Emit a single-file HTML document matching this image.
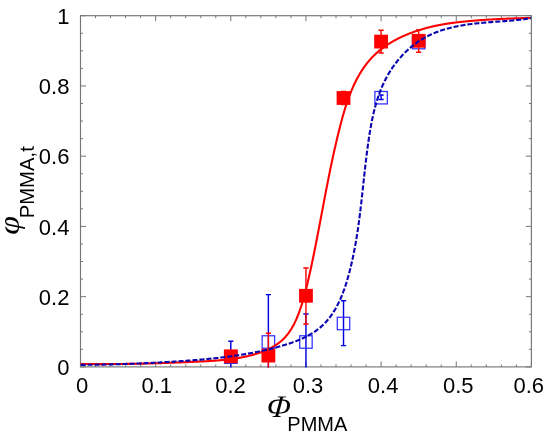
<!DOCTYPE html><html><head><meta charset="utf-8"><style>html,body{margin:0;padding:0;background:#fff;overflow:hidden;}svg{display:block;}</style></head><body>
<svg width="550" height="443" viewBox="0 0 550 443">
<rect width="550" height="443" fill="#fff"/>
<defs><clipPath id="c"><rect x="80.5" y="15.5" width="451" height="352"/></clipPath></defs>
<path d="M80.50,366.90v-5.5M80.50,15.70v5.5M95.53,366.90v-2.5M95.53,15.70v2.5M110.56,366.90v-2.5M110.56,15.70v2.5M125.59,366.90v-2.5M125.59,15.70v2.5M140.62,366.90v-2.5M140.62,15.70v2.5M155.65,366.90v-5.5M155.65,15.70v5.5M170.68,366.90v-2.5M170.68,15.70v2.5M185.71,366.90v-2.5M185.71,15.70v2.5M200.74,366.90v-2.5M200.74,15.70v2.5M215.77,366.90v-2.5M215.77,15.70v2.5M230.80,366.90v-5.5M230.80,15.70v5.5M245.83,366.90v-2.5M245.83,15.70v2.5M260.86,366.90v-2.5M260.86,15.70v2.5M275.89,366.90v-2.5M275.89,15.70v2.5M290.92,366.90v-2.5M290.92,15.70v2.5M305.95,366.90v-5.5M305.95,15.70v5.5M320.98,366.90v-2.5M320.98,15.70v2.5M336.01,366.90v-2.5M336.01,15.70v2.5M351.04,366.90v-2.5M351.04,15.70v2.5M366.07,366.90v-2.5M366.07,15.70v2.5M381.10,366.90v-5.5M381.10,15.70v5.5M396.13,366.90v-2.5M396.13,15.70v2.5M411.16,366.90v-2.5M411.16,15.70v2.5M426.19,366.90v-2.5M426.19,15.70v2.5M441.22,366.90v-2.5M441.22,15.70v2.5M456.25,366.90v-5.5M456.25,15.70v5.5M471.28,366.90v-2.5M471.28,15.70v2.5M486.31,366.90v-2.5M486.31,15.70v2.5M501.34,366.90v-2.5M501.34,15.70v2.5M516.37,366.90v-2.5M516.37,15.70v2.5M531.40,366.90v-5.5M531.40,15.70v5.5M80.50,366.90h5.5M531.40,366.90h-5.5M80.50,349.34h2.5M531.40,349.34h-2.5M80.50,331.78h2.5M531.40,331.78h-2.5M80.50,314.22h2.5M531.40,314.22h-2.5M80.50,296.66h5.5M531.40,296.66h-5.5M80.50,279.10h2.5M531.40,279.10h-2.5M80.50,261.54h2.5M531.40,261.54h-2.5M80.50,243.98h2.5M531.40,243.98h-2.5M80.50,226.42h5.5M531.40,226.42h-5.5M80.50,208.86h2.5M531.40,208.86h-2.5M80.50,191.30h2.5M531.40,191.30h-2.5M80.50,173.74h2.5M531.40,173.74h-2.5M80.50,156.18h5.5M531.40,156.18h-5.5M80.50,138.62h2.5M531.40,138.62h-2.5M80.50,121.06h2.5M531.40,121.06h-2.5M80.50,103.50h2.5M531.40,103.50h-2.5M80.50,85.94h5.5M531.40,85.94h-5.5M80.50,68.38h2.5M531.40,68.38h-2.5M80.50,50.82h2.5M531.40,50.82h-2.5M80.50,33.26h2.5M531.40,33.26h-2.5M80.50,15.70h5.5M531.40,15.70h-5.5" stroke="#767676" stroke-width="1.0" fill="none"/>
<rect x="80.5" y="15.70" width="450.90" height="351.20" stroke="#767676" stroke-width="1.15" fill="none"/>
<g clip-path="url(#c)">
<path d="M230.80,341.30V373.00M228.20,341.30h5.2M228.20,373.00h5.2" stroke="#0000e0" stroke-width="1.45" fill="none"/>
<rect x="224.58" y="350.97" width="12.45" height="12.45" stroke="#3030ff" stroke-width="1.25" fill="none"/>
<path d="M268.38,294.60V389.00M265.77,294.60h5.2M265.77,389.00h5.2" stroke="#0000e0" stroke-width="1.45" fill="none"/>
<rect x="262.15" y="335.77" width="12.45" height="12.45" stroke="#3030ff" stroke-width="1.25" fill="none"/>
<path d="M305.95,314.00V370.00M303.35,314.00h5.2M303.35,370.00h5.2" stroke="#0000e0" stroke-width="1.45" fill="none"/>
<rect x="299.72" y="335.77" width="12.45" height="12.45" stroke="#3030ff" stroke-width="1.25" fill="none"/>
<path d="M343.52,300.70V345.60M340.92,300.70h5.2M340.92,345.60h5.2" stroke="#0000e0" stroke-width="1.45" fill="none"/>
<rect x="337.30" y="317.27" width="12.45" height="12.45" stroke="#3030ff" stroke-width="1.25" fill="none"/>
<path d="M381.10,95.00V99.40M378.50,95.00h5.2M378.50,99.40h5.2" stroke="#0000e0" stroke-width="1.45" fill="none"/>
<rect x="374.88" y="91.48" width="12.45" height="12.45" stroke="#3030ff" stroke-width="1.25" fill="none"/>
<path d="M418.68,39.00V46.20M416.07,39.00h5.2M416.07,46.20h5.2" stroke="#0000e0" stroke-width="1.45" fill="none"/>
<rect x="412.45" y="36.38" width="12.45" height="12.45" stroke="#3030ff" stroke-width="1.25" fill="none"/>

<rect x="223.90" y="349.40" width="13.8" height="13.8" fill="#ff0000"/>
<path d="M268.38,333.30V378.00M265.77,333.30h5.2M265.77,378.00h5.2" stroke="#ff0000" stroke-width="1.4" fill="none"/>
<rect x="261.48" y="348.70" width="13.8" height="13.8" fill="#ff0000"/>
<path d="M305.95,268.00V324.00M303.35,268.00h5.2M303.35,324.00h5.2" stroke="#ff0000" stroke-width="1.4" fill="none"/>
<rect x="299.05" y="288.90" width="13.8" height="13.8" fill="#ff0000"/>
<path d="M343.52,91.50V104.50M340.92,91.50h5.2M340.92,104.50h5.2" stroke="#ff0000" stroke-width="1.4" fill="none"/>
<rect x="336.62" y="91.10" width="13.8" height="13.8" fill="#ff0000"/>
<path d="M381.10,30.20V53.00M378.50,30.20h5.2M378.50,53.00h5.2" stroke="#ff0000" stroke-width="1.4" fill="none"/>
<rect x="374.20" y="34.70" width="13.8" height="13.8" fill="#ff0000"/>
<path d="M418.68,30.00V52.30M416.07,30.00h5.2M416.07,52.30h5.2" stroke="#ff0000" stroke-width="1.4" fill="none"/>
<rect x="411.78" y="33.90" width="13.8" height="13.8" fill="#ff0000"/>
<path d="M80.33,363.91 L81.19,363.92 L82.04,363.93 L82.90,363.94 L83.76,363.95 L84.62,363.97 L85.47,363.98 L86.33,363.99 L87.19,363.99 L88.04,364.00 L88.90,364.01 L89.75,364.02 L90.60,364.03 L91.46,364.03 L92.31,364.04 L93.16,364.05 L94.02,364.05 L94.87,364.06 L95.72,364.06 L96.57,364.06 L97.42,364.07 L98.27,364.07 L99.12,364.07 L99.97,364.08 L100.82,364.08 L101.66,364.08 L102.51,364.08 L103.36,364.08 L104.21,364.08 L105.05,364.08 L105.90,364.08 L106.75,364.07 L107.59,364.07 L108.44,364.07 L109.28,364.07 L110.13,364.06 L110.97,364.06 L111.82,364.05 L112.66,364.05 L113.51,364.04 L114.35,364.04 L115.19,364.03 L116.04,364.03 L116.88,364.02 L117.72,364.01 L118.56,364.00 L119.40,363.99 L120.25,363.99 L121.09,363.98 L121.93,363.97 L122.77,363.96 L123.61,363.95 L124.45,363.94 L125.29,363.92 L126.13,363.91 L126.97,363.90 L127.81,363.89 L128.65,363.88 L129.49,363.86 L130.33,363.85 L131.17,363.83 L132.01,363.82 L132.85,363.80 L133.69,363.79 L134.53,363.77 L135.36,363.76 L136.20,363.74 L137.04,363.72 L137.88,363.71 L138.72,363.69 L139.56,363.67 L140.40,363.65 L141.23,363.63 L142.07,363.61 L142.91,363.60 L143.75,363.58 L144.59,363.56 L145.42,363.53 L146.26,363.51 L147.10,363.49 L147.94,363.47 L148.77,363.45 L149.61,363.43 L150.45,363.40 L151.29,363.38 L152.13,363.36 L152.96,363.33 L153.80,363.31 L154.64,363.29 L155.48,363.26 L156.32,363.24 L157.16,363.21 L157.99,363.18 L158.83,363.16 L159.67,363.13 L160.51,363.11 L161.35,363.08 L162.19,363.05 L163.03,363.02 L163.86,363.00 L164.70,362.97 L165.54,362.94 L166.38,362.91 L167.22,362.88 L168.06,362.85 L168.90,362.82 L169.74,362.79 L170.58,362.76 L171.42,362.73 L172.26,362.70 L173.10,362.67 L173.94,362.64 L174.79,362.60 L175.63,362.57 L176.47,362.54 L177.31,362.51 L178.15,362.47 L179.00,362.44 L179.84,362.41 L180.68,362.37 L181.52,362.34 L182.37,362.30 L183.21,362.27 L184.06,362.23 L184.90,362.20 L185.74,362.16 L186.59,362.13 L187.43,362.09 L188.28,362.06 L189.13,362.02 L189.97,361.98 L190.82,361.95 L191.66,361.91 L192.51,361.87 L193.36,361.83 L194.21,361.80 L195.06,361.76 L195.90,361.72 L196.75,361.68 L197.60,361.64 L198.45,361.60 L199.30,361.56 L200.15,361.52 L201.00,361.48 L201.85,361.44 L202.71,361.40 L203.56,361.36 L204.41,361.31 L205.26,361.27 L206.11,361.22 L206.96,361.18 L207.81,361.13 L208.67,361.08 L209.52,361.03 L210.37,360.98 L211.22,360.92 L212.07,360.87 L212.92,360.81 L213.78,360.75 L214.63,360.69 L215.48,360.63 L216.33,360.57 L217.18,360.50 L218.03,360.43 L218.88,360.36 L219.73,360.29 L220.58,360.22 L221.42,360.14 L222.27,360.06 L223.12,359.98 L223.97,359.90 L224.81,359.81 L225.66,359.72 L226.51,359.63 L227.35,359.53 L228.20,359.43 L229.04,359.33 L229.88,359.23 L230.72,359.12 L231.56,359.01 L232.41,358.89 L233.25,358.78 L234.08,358.65 L234.92,358.53 L235.76,358.40 L236.60,358.27 L237.43,358.13 L238.27,357.99 L239.10,357.85 L239.93,357.70 L240.76,357.55 L241.59,357.39 L242.42,357.23 L243.25,357.07 L244.08,356.90 L244.90,356.73 L245.73,356.55 L246.55,356.37 L247.37,356.18 L248.19,355.99 L249.01,355.79 L249.83,355.59 L250.65,355.38 L251.46,355.17 L252.27,354.95 L253.09,354.73 L253.90,354.50 L254.70,354.27 L255.51,354.03 L256.32,353.78 L257.12,353.53 L257.92,353.28 L258.71,353.02 L259.51,352.75 L260.30,352.47 L261.09,352.19 L261.87,351.90 L262.65,351.61 L263.43,351.31 L264.20,351.00 L264.97,350.69 L265.73,350.36 L266.49,350.03 L267.24,349.70 L267.99,349.35 L268.73,349.00 L269.47,348.64 L270.20,348.27 L270.92,347.90 L271.64,347.51 L272.36,347.12 L273.06,346.72 L273.76,346.31 L274.46,345.89 L275.14,345.47 L275.82,345.03 L276.49,344.59 L277.16,344.14 L277.81,343.67 L278.46,343.20 L279.10,342.72 L279.73,342.23 L280.35,341.73 L280.96,341.22 L281.56,340.70 L282.16,340.17 L282.74,339.62 L283.32,339.07 L283.88,338.51 L284.44,337.94 L284.99,337.36 L285.52,336.76 L286.05,336.16 L286.57,335.55 L287.08,334.93 L287.58,334.30 L288.07,333.67 L288.55,333.02 L289.03,332.36 L289.49,331.70 L289.95,331.03 L290.40,330.35 L290.84,329.66 L291.28,328.97 L291.70,328.27 L292.12,327.56 L292.53,326.84 L292.94,326.12 L293.34,325.39 L293.73,324.66 L294.11,323.91 L294.49,323.17 L294.86,322.41 L295.22,321.66 L295.58,320.89 L295.93,320.12 L296.28,319.35 L296.62,318.57 L296.95,317.79 L297.28,317.00 L297.60,316.21 L297.92,315.41 L298.23,314.62 L298.54,313.81 L298.84,313.01 L299.14,312.20 L299.43,311.39 L299.72,310.57 L300.01,309.75 L300.29,308.93 L300.56,308.11 L300.83,307.29 L301.10,306.46 L301.37,305.64 L301.63,304.81 L301.89,303.98 L302.14,303.15 L302.39,302.32 L302.64,301.48 L302.89,300.65 L303.13,299.82 L303.37,298.99 L303.61,298.15 L303.84,297.32 L304.07,296.49 L304.31,295.65 L304.53,294.82 L304.76,293.99 L304.98,293.15 L305.20,292.32 L305.42,291.49 L305.64,290.65 L305.85,289.82 L306.07,288.98 L306.28,288.15 L306.49,287.32 L306.69,286.48 L306.90,285.65 L307.10,284.82 L307.30,283.98 L307.51,283.15 L307.70,282.31 L307.90,281.48 L308.10,280.65 L308.29,279.81 L308.48,278.98 L308.68,278.15 L308.87,277.31 L309.05,276.48 L309.24,275.65 L309.43,274.82 L309.62,273.98 L309.80,273.15 L309.98,272.32 L310.17,271.49 L310.35,270.66 L310.53,269.82 L310.71,268.99 L310.89,268.16 L311.07,267.33 L311.25,266.50 L311.43,265.67 L311.60,264.84 L311.78,264.01 L311.95,263.18 L312.13,262.35 L312.30,261.52 L312.48,260.69 L312.65,259.87 L312.82,259.04 L313.00,258.21 L313.17,257.38 L313.34,256.55 L313.51,255.72 L313.68,254.90 L313.85,254.07 L314.01,253.24 L314.18,252.42 L314.35,251.59 L314.52,250.76 L314.68,249.94 L314.85,249.11 L315.01,248.28 L315.18,247.46 L315.34,246.63 L315.51,245.81 L315.67,244.98 L315.84,244.15 L316.00,243.33 L316.16,242.50 L316.32,241.68 L316.48,240.85 L316.65,240.03 L316.81,239.21 L316.97,238.38 L317.13,237.56 L317.29,236.73 L317.45,235.91 L317.61,235.09 L317.76,234.26 L317.92,233.44 L318.08,232.61 L318.24,231.79 L318.40,230.97 L318.56,230.14 L318.71,229.32 L318.87,228.50 L319.03,227.68 L319.18,226.85 L319.34,226.03 L319.50,225.21 L319.65,224.38 L319.81,223.56 L319.97,222.74 L320.12,221.92 L320.28,221.09 L320.43,220.27 L320.59,219.45 L320.74,218.63 L320.90,217.81 L321.05,216.98 L321.21,216.16 L321.36,215.34 L321.52,214.52 L321.67,213.70 L321.83,212.87 L321.99,212.05 L322.14,211.23 L322.30,210.41 L322.45,209.59 L322.61,208.77 L322.76,207.95 L322.92,207.12 L323.07,206.30 L323.23,205.48 L323.38,204.66 L323.54,203.84 L323.69,203.02 L323.85,202.19 L324.00,201.37 L324.16,200.55 L324.32,199.73 L324.47,198.91 L324.63,198.09 L324.79,197.27 L324.94,196.44 L325.10,195.62 L325.26,194.80 L325.42,193.98 L325.57,193.16 L325.73,192.34 L325.89,191.51 L326.05,190.69 L326.21,189.87 L326.37,189.05 L326.53,188.23 L326.69,187.41 L326.85,186.58 L327.01,185.76 L327.17,184.94 L327.33,184.12 L327.49,183.30 L327.65,182.47 L327.81,181.65 L327.98,180.83 L328.14,180.01 L328.30,179.18 L328.47,178.36 L328.63,177.54 L328.80,176.72 L328.96,175.89 L329.13,175.07 L329.29,174.25 L329.46,173.42 L329.63,172.60 L329.79,171.78 L329.96,170.95 L330.13,170.13 L330.30,169.31 L330.47,168.48 L330.64,167.66 L330.81,166.83 L330.98,166.01 L331.16,165.19 L331.33,164.36 L331.50,163.54 L331.68,162.71 L331.85,161.89 L332.03,161.06 L332.20,160.24 L332.38,159.41 L332.56,158.59 L332.73,157.76 L332.91,156.94 L333.09,156.11 L333.27,155.28 L333.45,154.46 L333.64,153.63 L333.82,152.80 L334.00,151.98 L334.19,151.15 L334.37,150.32 L334.56,149.50 L334.74,148.67 L334.93,147.84 L335.12,147.01 L335.31,146.19 L335.50,145.36 L335.69,144.53 L335.88,143.70 L336.07,142.87 L336.26,142.04 L336.46,141.21 L336.65,140.38 L336.85,139.55 L337.05,138.72 L337.24,137.89 L337.44,137.06 L337.64,136.23 L337.84,135.40 L338.05,134.57 L338.25,133.74 L338.45,132.91 L338.66,132.08 L338.86,131.25 L339.07,130.41 L339.28,129.58 L339.49,128.75 L339.70,127.92 L339.91,127.08 L340.12,126.25 L340.34,125.42 L340.55,124.58 L340.77,123.75 L340.99,122.92 L341.21,122.09 L341.43,121.25 L341.65,120.42 L341.88,119.59 L342.10,118.76 L342.33,117.93 L342.56,117.10 L342.79,116.27 L343.03,115.44 L343.26,114.62 L343.50,113.79 L343.74,112.96 L343.98,112.14 L344.23,111.31 L344.47,110.49 L344.72,109.67 L344.98,108.85 L345.23,108.03 L345.49,107.21 L345.75,106.39 L346.01,105.58 L346.27,104.76 L346.54,103.95 L346.81,103.14 L347.08,102.33 L347.36,101.52 L347.64,100.71 L347.92,99.91 L348.21,99.11 L348.49,98.31 L348.78,97.51 L349.08,96.71 L349.38,95.92 L349.68,95.12 L349.98,94.33 L350.29,93.55 L350.60,92.76 L350.92,91.98 L351.24,91.19 L351.56,90.42 L351.88,89.64 L352.21,88.87 L352.55,88.10 L352.89,87.33 L353.23,86.56 L353.57,85.80 L353.92,85.04 L354.28,84.28 L354.63,83.53 L355.00,82.78 L355.36,82.03 L355.73,81.28 L356.11,80.54 L356.49,79.81 L356.87,79.07 L357.26,78.34 L357.65,77.61 L358.05,76.89 L358.45,76.17 L358.86,75.45 L359.27,74.73 L359.69,74.02 L360.11,73.32 L360.54,72.61 L360.97,71.92 L361.41,71.22 L361.85,70.53 L362.30,69.84 L362.75,69.16 L363.21,68.48 L363.67,67.81 L364.14,67.14 L364.62,66.47 L365.10,65.81 L365.58,65.16 L366.07,64.50 L366.57,63.86 L367.07,63.21 L367.58,62.58 L368.10,61.94 L368.62,61.31 L369.14,60.69 L369.67,60.07 L370.21,59.46 L370.76,58.85 L371.31,58.24 L371.87,57.65 L372.43,57.05 L373.00,56.46 L373.57,55.88 L374.16,55.30 L374.75,54.73 L375.34,54.17 L375.94,53.60 L376.55,53.05 L377.17,52.50 L377.79,51.96 L378.42,51.42 L379.05,50.88 L379.70,50.36 L380.34,49.83 L381.00,49.32 L381.66,48.81 L382.32,48.30 L382.99,47.80 L383.67,47.31 L384.35,46.82 L385.04,46.33 L385.73,45.86 L386.43,45.38 L387.13,44.92 L387.84,44.45 L388.55,44.00 L389.27,43.55 L389.99,43.10 L390.72,42.66 L391.45,42.22 L392.18,41.79 L392.92,41.37 L393.66,40.95 L394.41,40.54 L395.16,40.13 L395.91,39.72 L396.67,39.32 L397.43,38.93 L398.20,38.54 L398.97,38.16 L399.74,37.78 L400.51,37.41 L401.29,37.04 L402.07,36.67 L402.85,36.32 L403.64,35.96 L404.42,35.62 L405.21,35.27 L406.01,34.93 L406.80,34.60 L407.60,34.27 L408.40,33.95 L409.20,33.63 L410.00,33.32 L410.80,33.01 L411.61,32.71 L412.41,32.41 L413.22,32.11 L414.03,31.82 L414.84,31.54 L415.65,31.26 L416.46,30.99 L417.27,30.72 L418.09,30.45 L418.90,30.19 L419.71,29.93 L420.53,29.68 L421.34,29.44 L422.16,29.19 L422.98,28.96 L423.79,28.72 L424.61,28.49 L425.43,28.27 L426.24,28.05 L427.06,27.83 L427.88,27.62 L428.70,27.41 L429.52,27.21 L430.34,27.01 L431.16,26.81 L431.98,26.62 L432.80,26.43 L433.63,26.25 L434.45,26.06 L435.27,25.89 L436.09,25.71 L436.92,25.54 L437.74,25.38 L438.57,25.21 L439.39,25.05 L440.22,24.89 L441.04,24.74 L441.87,24.59 L442.70,24.44 L443.52,24.30 L444.35,24.16 L445.18,24.02 L446.01,23.88 L446.83,23.75 L447.66,23.62 L448.49,23.49 L449.32,23.37 L450.15,23.25 L450.98,23.13 L451.81,23.01 L452.65,22.90 L453.48,22.79 L454.31,22.68 L455.14,22.57 L455.97,22.47 L456.81,22.36 L457.64,22.26 L458.47,22.17 L459.31,22.07 L460.14,21.98 L460.98,21.88 L461.81,21.79 L462.65,21.70 L463.48,21.62 L464.32,21.53 L465.15,21.45 L465.99,21.37 L466.83,21.29 L467.66,21.21 L468.50,21.13 L469.34,21.05 L470.18,20.98 L471.02,20.91 L471.86,20.83 L472.69,20.76 L473.53,20.69 L474.37,20.63 L475.21,20.56 L476.05,20.49 L476.89,20.43 L477.73,20.36 L478.57,20.30 L479.42,20.23 L480.26,20.17 L481.10,20.11 L481.94,20.05 L482.78,19.99 L483.62,19.93 L484.47,19.88 L485.31,19.82 L486.15,19.77 L486.99,19.71 L487.84,19.66 L488.68,19.61 L489.52,19.56 L490.37,19.50 L491.21,19.45 L492.05,19.41 L492.90,19.36 L493.74,19.31 L494.58,19.26 L495.43,19.22 L496.27,19.17 L497.11,19.13 L497.96,19.09 L498.80,19.04 L499.65,19.00 L500.49,18.96 L501.34,18.92 L502.18,18.88 L503.02,18.84 L503.87,18.81 L504.71,18.77 L505.56,18.73 L506.40,18.70 L507.24,18.66 L508.09,18.63 L508.93,18.60 L509.78,18.56 L510.62,18.53 L511.46,18.50 L512.31,18.47 L513.15,18.44 L513.99,18.41 L514.84,18.38 L515.68,18.35 L516.52,18.33 L517.37,18.30 L518.21,18.27 L519.05,18.25 L519.89,18.22 L520.74,18.20 L521.58,18.17 L522.42,18.15 L523.26,18.13 L524.10,18.11 L524.94,18.09 L525.79,18.06 L526.63,18.04 L527.47,18.02 L528.31,18.00 L529.15,17.99 L529.99,17.97" stroke="#ff0000" stroke-width="2.1" fill="none"/>
<path d="M80.53,364.86 L81.37,364.85 L82.21,364.85 L83.05,364.85 L83.89,364.84 L84.73,364.83 L85.57,364.83 L86.41,364.82 L87.26,364.82 L88.10,364.81 L88.94,364.80 L89.78,364.79 L90.62,364.78 L91.46,364.77 L92.31,364.76 L93.15,364.75 L93.99,364.74 L94.83,364.73 L95.68,364.72 L96.52,364.71 L97.36,364.69 L98.20,364.68 L99.05,364.67 L99.89,364.65 L100.73,364.64 L101.58,364.62 L102.42,364.60 L103.26,364.59 L104.11,364.57 L104.95,364.55 L105.79,364.54 L106.64,364.52 L107.48,364.50 L108.32,364.48 L109.17,364.46 L110.01,364.44 L110.86,364.42 L111.70,364.40 L112.54,364.38 L113.39,364.35 L114.23,364.33 L115.08,364.31 L115.92,364.28 L116.77,364.26 L117.61,364.24 L118.45,364.21 L119.30,364.19 L120.14,364.16 L120.99,364.13 L121.83,364.11 L122.68,364.08 L123.52,364.05 L124.37,364.02 L125.21,364.00 L126.05,363.97 L126.90,363.94 L127.74,363.91 L128.59,363.88 L129.43,363.85 L130.28,363.81 L131.12,363.78 L131.97,363.75 L132.81,363.72 L133.66,363.68 L134.50,363.65 L135.35,363.62 L136.19,363.58 L137.03,363.55 L137.88,363.51 L138.72,363.47 L139.57,363.44 L140.41,363.40 L141.26,363.36 L142.10,363.33 L142.95,363.29 L143.79,363.25 L144.63,363.21 L145.48,363.17 L146.32,363.13 L147.17,363.09 L148.01,363.05 L148.86,363.01 L149.70,362.97 L150.54,362.93 L151.39,362.88 L152.23,362.84 L153.07,362.80 L153.92,362.75 L154.76,362.71 L155.61,362.66 L156.45,362.62 L157.29,362.57 L158.14,362.53 L158.98,362.48 L159.82,362.43 L160.67,362.39 L161.51,362.34 L162.35,362.29 L163.19,362.24 L164.04,362.19 L164.88,362.14 L165.72,362.09 L166.57,362.04 L167.41,361.99 L168.25,361.94 L169.09,361.89 L169.93,361.84 L170.78,361.79 L171.62,361.74 L172.46,361.68 L173.30,361.63 L174.14,361.57 L174.98,361.52 L175.83,361.47 L176.67,361.41 L177.51,361.36 L178.35,361.30 L179.19,361.24 L180.03,361.19 L180.87,361.13 L181.71,361.07 L182.55,361.01 L183.39,360.96 L184.23,360.90 L185.07,360.84 L185.91,360.78 L186.75,360.72 L187.59,360.66 L188.43,360.59 L189.27,360.53 L190.11,360.47 L190.95,360.41 L191.79,360.34 L192.62,360.28 L193.46,360.21 L194.30,360.15 L195.14,360.08 L195.98,360.01 L196.82,359.95 L197.65,359.88 L198.49,359.81 L199.33,359.74 L200.17,359.67 L201.00,359.59 L201.84,359.52 L202.68,359.45 L203.52,359.37 L204.35,359.30 L205.19,359.22 L206.03,359.14 L206.86,359.06 L207.70,358.99 L208.54,358.91 L209.37,358.82 L210.21,358.74 L211.05,358.66 L211.88,358.57 L212.72,358.49 L213.56,358.40 L214.39,358.31 L215.23,358.23 L216.06,358.14 L216.90,358.04 L217.74,357.95 L218.57,357.86 L219.41,357.76 L220.24,357.67 L221.08,357.57 L221.91,357.47 L222.75,357.37 L223.58,357.27 L224.42,357.17 L225.25,357.06 L226.09,356.96 L226.92,356.85 L227.76,356.74 L228.59,356.63 L229.43,356.52 L230.26,356.41 L231.10,356.30 L231.93,356.18 L232.77,356.06 L233.60,355.95 L234.44,355.83 L235.27,355.70 L236.10,355.58 L236.94,355.46 L237.77,355.33 L238.61,355.20 L239.44,355.07 L240.28,354.94 L241.11,354.81 L241.94,354.67 L242.78,354.53 L243.61,354.40 L244.45,354.26 L245.28,354.11 L246.11,353.97 L246.95,353.82 L247.78,353.68 L248.62,353.53 L249.45,353.38 L250.28,353.22 L251.12,353.07 L251.95,352.91 L252.79,352.75 L253.62,352.59 L254.45,352.43 L255.29,352.26 L256.12,352.10 L256.95,351.93 L257.79,351.76 L258.62,351.58 L259.45,351.41 L260.29,351.23 L261.12,351.05 L261.96,350.87 L262.79,350.68 L263.62,350.50 L264.46,350.31 L265.29,350.12 L266.12,349.93 L266.96,349.73 L267.79,349.53 L268.63,349.33 L269.46,349.13 L270.29,348.93 L271.13,348.72 L271.96,348.51 L272.79,348.30 L273.63,348.09 L274.46,347.87 L275.30,347.65 L276.13,347.43 L276.96,347.21 L277.80,346.98 L278.63,346.75 L279.46,346.52 L280.30,346.28 L281.13,346.05 L281.96,345.81 L282.79,345.56 L283.62,345.32 L284.45,345.07 L285.28,344.81 L286.11,344.56 L286.93,344.30 L287.75,344.03 L288.58,343.77 L289.40,343.49 L290.21,343.22 L291.03,342.94 L291.84,342.66 L292.65,342.37 L293.46,342.08 L294.27,341.78 L295.07,341.48 L295.87,341.17 L296.66,340.86 L297.46,340.55 L298.25,340.23 L299.03,339.91 L299.82,339.58 L300.59,339.24 L301.37,338.90 L302.14,338.56 L302.91,338.21 L303.67,337.85 L304.43,337.49 L305.18,337.12 L305.93,336.75 L306.67,336.37 L307.41,335.98 L308.15,335.59 L308.87,335.20 L309.60,334.79 L310.31,334.38 L311.03,333.97 L311.73,333.54 L312.43,333.11 L313.13,332.68 L313.81,332.24 L314.49,331.79 L315.17,331.33 L315.84,330.87 L316.50,330.40 L317.15,329.92 L317.80,329.43 L318.44,328.94 L319.07,328.44 L319.70,327.93 L320.32,327.42 L320.93,326.89 L321.53,326.36 L322.13,325.82 L322.71,325.27 L323.29,324.72 L323.86,324.16 L324.43,323.59 L324.99,323.01 L325.54,322.43 L326.08,321.84 L326.61,321.24 L327.14,320.64 L327.66,320.03 L328.18,319.41 L328.69,318.78 L329.19,318.15 L329.68,317.51 L330.17,316.87 L330.65,316.22 L331.12,315.57 L331.59,314.90 L332.05,314.24 L332.50,313.56 L332.95,312.88 L333.39,312.20 L333.83,311.51 L334.26,310.82 L334.69,310.11 L335.10,309.41 L335.52,308.70 L335.92,307.98 L336.32,307.26 L336.72,306.54 L337.11,305.81 L337.49,305.07 L337.87,304.34 L338.24,303.59 L338.61,302.84 L338.97,302.09 L339.33,301.34 L339.68,300.58 L340.03,299.82 L340.37,299.05 L340.71,298.28 L341.05,297.51 L341.37,296.73 L341.70,295.95 L342.02,295.16 L342.33,294.38 L342.64,293.59 L342.95,292.79 L343.25,292.00 L343.54,291.20 L343.84,290.40 L344.13,289.60 L344.41,288.79 L344.69,287.98 L344.97,287.17 L345.24,286.36 L345.51,285.55 L345.78,284.73 L346.04,283.91 L346.30,283.09 L346.55,282.27 L346.80,281.45 L347.05,280.63 L347.30,279.80 L347.54,278.97 L347.78,278.15 L348.01,277.32 L348.24,276.49 L348.47,275.66 L348.70,274.83 L348.93,274.00 L349.15,273.17 L349.37,272.33 L349.58,271.50 L349.80,270.67 L350.01,269.84 L350.22,269.01 L350.42,268.17 L350.63,267.34 L350.83,266.51 L351.03,265.68 L351.23,264.84 L351.42,264.01 L351.61,263.18 L351.80,262.35 L351.99,261.52 L352.18,260.68 L352.36,259.85 L352.55,259.02 L352.73,258.19 L352.90,257.35 L353.08,256.52 L353.26,255.69 L353.43,254.86 L353.60,254.03 L353.77,253.19 L353.93,252.36 L354.10,251.53 L354.26,250.70 L354.42,249.86 L354.58,249.03 L354.74,248.20 L354.89,247.37 L355.05,246.54 L355.20,245.70 L355.35,244.87 L355.50,244.04 L355.64,243.21 L355.79,242.38 L355.93,241.54 L356.08,240.71 L356.22,239.88 L356.36,239.05 L356.49,238.21 L356.63,237.38 L356.76,236.55 L356.90,235.72 L357.03,234.88 L357.16,234.05 L357.29,233.22 L357.42,232.39 L357.54,231.55 L357.67,230.72 L357.79,229.89 L357.92,229.06 L358.04,228.22 L358.16,227.39 L358.28,226.56 L358.39,225.72 L358.51,224.89 L358.63,224.06 L358.74,223.23 L358.85,222.39 L358.97,221.56 L359.08,220.73 L359.19,219.89 L359.30,219.06 L359.41,218.23 L359.51,217.39 L359.62,216.56 L359.73,215.73 L359.83,214.89 L359.94,214.06 L360.04,213.23 L360.14,212.39 L360.24,211.56 L360.34,210.73 L360.45,209.89 L360.54,209.06 L360.64,208.22 L360.74,207.39 L360.84,206.56 L360.94,205.72 L361.03,204.89 L361.13,204.05 L361.23,203.22 L361.32,202.39 L361.41,201.55 L361.51,200.72 L361.60,199.88 L361.70,199.05 L361.79,198.21 L361.88,197.38 L361.97,196.54 L362.06,195.71 L362.16,194.87 L362.25,194.04 L362.34,193.20 L362.43,192.37 L362.52,191.53 L362.61,190.70 L362.70,189.86 L362.79,189.03 L362.88,188.19 L362.97,187.35 L363.06,186.52 L363.15,185.68 L363.24,184.85 L363.33,184.01 L363.42,183.17 L363.51,182.34 L363.60,181.50 L363.69,180.66 L363.78,179.83 L363.87,178.99 L363.96,178.15 L364.05,177.32 L364.14,176.48 L364.23,175.64 L364.32,174.80 L364.42,173.97 L364.51,173.13 L364.60,172.29 L364.69,171.45 L364.79,170.62 L364.88,169.78 L364.97,168.94 L365.07,168.10 L365.16,167.26 L365.26,166.42 L365.35,165.59 L365.45,164.75 L365.55,163.91 L365.65,163.07 L365.74,162.23 L365.84,161.39 L365.94,160.55 L366.04,159.71 L366.14,158.87 L366.25,158.03 L366.35,157.19 L366.45,156.35 L366.55,155.51 L366.66,154.67 L366.77,153.83 L366.87,152.99 L366.98,152.15 L367.09,151.31 L367.20,150.47 L367.31,149.63 L367.42,148.78 L367.53,147.94 L367.64,147.10 L367.76,146.26 L367.87,145.42 L367.99,144.58 L368.11,143.73 L368.23,142.89 L368.35,142.05 L368.47,141.21 L368.59,140.36 L368.71,139.52 L368.84,138.68 L368.97,137.83 L369.09,136.99 L369.22,136.15 L369.35,135.30 L369.49,134.46 L369.62,133.62 L369.76,132.77 L369.89,131.93 L370.03,131.09 L370.17,130.25 L370.32,129.40 L370.46,128.56 L370.61,127.72 L370.76,126.88 L370.91,126.04 L371.06,125.20 L371.22,124.36 L371.38,123.52 L371.54,122.68 L371.70,121.84 L371.87,121.01 L372.03,120.17 L372.21,119.34 L372.38,118.50 L372.56,117.67 L372.74,116.83 L372.92,116.00 L373.10,115.17 L373.29,114.34 L373.48,113.51 L373.68,112.68 L373.87,111.86 L374.08,111.03 L374.28,110.21 L374.49,109.38 L374.70,108.56 L374.91,107.74 L375.13,106.92 L375.35,106.11 L375.58,105.29 L375.81,104.47 L376.04,103.66 L376.28,102.85 L376.52,102.04 L376.76,101.23 L377.01,100.42 L377.26,99.62 L377.52,98.82 L377.78,98.01 L378.05,97.21 L378.32,96.42 L378.59,95.62 L378.87,94.83 L379.15,94.04 L379.44,93.25 L379.73,92.46 L380.03,91.67 L380.33,90.89 L380.64,90.11 L380.95,89.33 L381.27,88.55 L381.59,87.78 L381.91,87.00 L382.25,86.23 L382.58,85.47 L382.92,84.70 L383.27,83.94 L383.62,83.18 L383.98,82.42 L384.35,81.67 L384.71,80.92 L385.09,80.17 L385.47,79.42 L385.85,78.68 L386.25,77.94 L386.64,77.20 L387.05,76.46 L387.45,75.73 L387.87,75.00 L388.29,74.28 L388.71,73.56 L389.14,72.84 L389.58,72.12 L390.02,71.41 L390.47,70.70 L390.92,70.00 L391.37,69.29 L391.84,68.60 L392.31,67.90 L392.78,67.21 L393.26,66.52 L393.74,65.84 L394.23,65.16 L394.72,64.49 L395.22,63.82 L395.73,63.15 L396.24,62.49 L396.75,61.83 L397.27,61.18 L397.80,60.53 L398.33,59.88 L398.87,59.24 L399.41,58.60 L399.95,57.97 L400.50,57.34 L401.06,56.72 L401.62,56.11 L402.18,55.49 L402.75,54.88 L403.33,54.28 L403.91,53.68 L404.50,53.09 L405.08,52.50 L405.68,51.92 L406.28,51.34 L406.88,50.77 L407.49,50.21 L408.11,49.65 L408.72,49.09 L409.35,48.54 L409.98,48.00 L410.61,47.46 L411.25,46.92 L411.89,46.40 L412.53,45.87 L413.19,45.36 L413.84,44.85 L414.50,44.35 L415.17,43.85 L415.83,43.36 L416.51,42.87 L417.19,42.39 L417.87,41.92 L418.56,41.46 L419.25,41.00 L419.94,40.54 L420.64,40.10 L421.35,39.66 L422.06,39.22 L422.77,38.80 L423.49,38.38 L424.21,37.96 L424.93,37.56 L425.66,37.16 L426.40,36.77 L427.14,36.38 L427.88,36.00 L428.62,35.63 L429.37,35.27 L430.13,34.91 L430.88,34.56 L431.65,34.21 L432.41,33.87 L433.18,33.54 L433.95,33.22 L434.72,32.90 L435.50,32.58 L436.28,32.28 L437.07,31.97 L437.85,31.68 L438.64,31.39 L439.44,31.11 L440.23,30.83 L441.03,30.56 L441.83,30.29 L442.63,30.03 L443.44,29.78 L444.25,29.53 L445.06,29.28 L445.87,29.05 L446.69,28.81 L447.50,28.59 L448.32,28.36 L449.14,28.15 L449.96,27.93 L450.79,27.73 L451.61,27.52 L452.44,27.33 L453.27,27.13 L454.10,26.95 L454.93,26.76 L455.76,26.58 L456.60,26.41 L457.43,26.24 L458.27,26.08 L459.11,25.91 L459.95,25.76 L460.79,25.61 L461.63,25.46 L462.47,25.31 L463.31,25.17 L464.16,25.04 L465.00,24.90 L465.85,24.77 L466.69,24.65 L467.54,24.52 L468.39,24.40 L469.23,24.29 L470.08,24.17 L470.93,24.06 L471.78,23.96 L472.63,23.85 L473.48,23.75 L474.34,23.65 L475.19,23.55 L476.04,23.46 L476.89,23.37 L477.74,23.28 L478.60,23.19 L479.45,23.11 L480.30,23.02 L481.16,22.94 L482.01,22.86 L482.86,22.78 L483.72,22.71 L484.57,22.63 L485.42,22.56 L486.28,22.49 L487.13,22.42 L487.98,22.35 L488.84,22.28 L489.69,22.21 L490.54,22.15 L491.39,22.08 L492.24,22.02 L493.10,21.95 L493.95,21.89 L494.80,21.83 L495.65,21.76 L496.49,21.70 L497.34,21.64 L498.19,21.58 L499.04,21.52 L499.88,21.45 L500.73,21.39 L501.57,21.33 L502.42,21.27 L503.26,21.20 L504.10,21.14 L504.94,21.08 L505.78,21.01 L506.62,20.95 L507.46,20.88 L508.30,20.81 L509.13,20.74 L509.97,20.67 L510.80,20.60 L511.63,20.53 L512.46,20.45 L513.29,20.38 L514.12,20.30 L514.95,20.22 L515.77,20.14 L516.59,20.06 L517.42,19.98 L518.24,19.89 L519.05,19.80 L519.87,19.71 L520.69,19.62 L521.50,19.52 L522.31,19.42 L523.12,19.32 L523.93,19.22 L524.74,19.11 L525.54,19.00 L526.34,18.89 L527.14,18.78 L527.94,18.66 L528.74,18.53 L529.53,18.41 L530.32,18.28 L531.11,18.15" stroke="#0a05b0" stroke-width="2.1" fill="none" stroke-dasharray="5.1 1.9"/>
</g>
<text x="82.0" y="393.3" text-anchor="middle" style="font-family:'Liberation Sans',Arial,sans-serif;font-size:22px" fill="#000">0</text>
<text x="156.8" y="393.3" text-anchor="middle" style="font-family:'Liberation Sans',Arial,sans-serif;font-size:22px" fill="#000">0.1</text>
<text x="230.5" y="393.3" text-anchor="middle" style="font-family:'Liberation Sans',Arial,sans-serif;font-size:22px" fill="#000">0.2</text>
<text x="308.0" y="393.3" text-anchor="middle" style="font-family:'Liberation Sans',Arial,sans-serif;font-size:22px" fill="#000">0.3</text>
<text x="383.1" y="393.3" text-anchor="middle" style="font-family:'Liberation Sans',Arial,sans-serif;font-size:22px" fill="#000">0.4</text>
<text x="458.2" y="393.3" text-anchor="middle" style="font-family:'Liberation Sans',Arial,sans-serif;font-size:22px" fill="#000">0.5</text>
<text x="528.8" y="393.3" text-anchor="middle" style="font-family:'Liberation Sans',Arial,sans-serif;font-size:22px" fill="#000">0.6</text>
<text x="69.4" y="375.10" text-anchor="end" style="font-family:'Liberation Sans',Arial,sans-serif;font-size:22px" fill="#000">0</text>
<text x="69.4" y="304.86" text-anchor="end" style="font-family:'Liberation Sans',Arial,sans-serif;font-size:22px" fill="#000">0.2</text>
<text x="69.4" y="234.62" text-anchor="end" style="font-family:'Liberation Sans',Arial,sans-serif;font-size:22px" fill="#000">0.4</text>
<text x="69.4" y="164.38" text-anchor="end" style="font-family:'Liberation Sans',Arial,sans-serif;font-size:22px" fill="#000">0.6</text>
<text x="69.4" y="94.14" text-anchor="end" style="font-family:'Liberation Sans',Arial,sans-serif;font-size:22px" fill="#000">0.8</text>
<text x="69.4" y="23.90" text-anchor="end" style="font-family:'Liberation Sans',Arial,sans-serif;font-size:22px" fill="#000">1</text>
<text x="266" y="417" transform="translate(266,417) skewX(-5) translate(-266,-417)" style="font-family:'Liberation Serif',serif;font-style:italic;font-size:31.5px" fill="#000">&#934;</text>
<text x="287.3" y="431" style="font-family:'Liberation Sans',Arial,sans-serif;font-size:20px" fill="#000">PMMA</text>
<g transform="translate(0,0) rotate(-90)">
<text transform="translate(-234.8,19.2) scale(1.15,1)" style="font-family:'Liberation Serif',serif;font-style:italic;font-size:29.5px" fill="#000">&#966;</text>
<text x="-218.3" y="34.3" style="font-family:'Liberation Sans',Arial,sans-serif;font-size:20.3px" fill="#000">PMMA,t</text>
</g>
</svg></body></html>
